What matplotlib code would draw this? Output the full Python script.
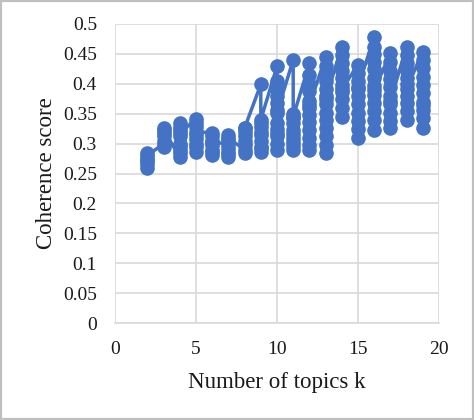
import matplotlib
matplotlib.use("Agg")
import matplotlib.pyplot as plt
from matplotlib.patches import Rectangle

# coherence scores per number of topics (several runs per k, in plotting order)
k2 = [0.284, 0.271, 0.260, 0.275, 0.266, 0.280]
k3 = [0.300, 0.326, 0.312, 0.294, 0.318, 0.305, 0.322]
k4 = [0.278, 0.335, 0.290, 0.322, 0.300, 0.285, 0.312, 0.328, 0.296, 0.318]
k5 = [0.341, 0.300, 0.328, 0.286, 0.315, 0.295, 0.335, 0.308, 0.320]
k6 = [0.318, 0.290, 0.305, 0.281, 0.298, 0.312, 0.286, 0.302]
k7 = [0.300, 0.278, 0.314, 0.286, 0.306, 0.292, 0.282, 0.309]
k8 = [0.290, 0.326, 0.284, 0.312, 0.298, 0.320, 0.305, 0.326]
k9 = [0.399, 0.334, 0.295, 0.286, 0.320, 0.305, 0.328, 0.292, 0.314, 0.340]
k10 = [0.429, 0.405, 0.392, 0.380, 0.368, 0.356, 0.300, 0.289, 0.312, 0.325, 0.335, 0.318, 0.352]
k11 = [0.440, 0.350, 0.296, 0.289, 0.310, 0.322, 0.335, 0.302, 0.342, 0.316, 0.345]
k12 = [0.434, 0.415, 0.400, 0.388, 0.372, 0.360, 0.348, 0.336, 0.322, 0.310, 0.298, 0.290, 0.365]
k13 = [0.444, 0.430, 0.418, 0.405, 0.392, 0.380, 0.366, 0.352, 0.340, 0.326, 0.312, 0.298, 0.284, 0.375]
k14 = [0.462, 0.448, 0.435, 0.422, 0.410, 0.398, 0.386, 0.374, 0.360, 0.345, 0.392]
k15 = [0.431, 0.418, 0.405, 0.392, 0.380, 0.366, 0.352, 0.338, 0.324, 0.309, 0.395]
k16 = [0.478, 0.462, 0.450, 0.437, 0.424, 0.410, 0.396, 0.382, 0.368, 0.354, 0.340, 0.323, 0.390]
k17 = [0.451, 0.436, 0.422, 0.408, 0.394, 0.380, 0.366, 0.352, 0.338, 0.326, 0.372]
k18 = [0.462, 0.448, 0.435, 0.422, 0.410, 0.400, 0.380, 0.368, 0.354, 0.339, 0.392]
k19 = [0.454, 0.440, 0.426, 0.412, 0.398, 0.384, 0.370, 0.356, 0.342, 0.326, 0.365]

topics = list(range(2, 20))
scores = [k2, k3, k4, k5, k6, k7, k8, k9, k10, k11, k12, k13, k14, k15, k16, k17, k18, k19]

x = []
y = []
for k, vals in zip(topics, scores):
    x += [k] * len(vals)
    y += vals

xticks = [0, 5, 10, 15, 20]
yticks = [0, 0.05, 0.1, 0.15, 0.2, 0.25, 0.3, 0.35, 0.4, 0.45, 0.5]
ylabels = ['0', '0.05', '0.1', '0.15', '0.2', '0.25', '0.3', '0.35', '0.4', '0.45', '0.5']

plt.rcParams['font.family'] = ['Liberation Serif', 'DejaVu Serif']

fig = plt.figure(figsize=(4.74, 4.2), dpi=100)
ax = fig.add_axes([115/474, 1 - 323/420, 324/474, 299/420])

ax.plot(x, y, color='#4472C4', lw=2.5, marker='o', ms=9.5, mec='#4472C4', mfc='#4472C4', zorder=3)

ax.set_xlim(0, 20)
ax.set_ylim(0, 0.5)
ax.set_xticks(xticks)
ax.set_yticks(yticks)
ax.set_yticklabels(ylabels)
ax.grid(True, color='#d9d9d9', lw=1.2)
ax.set_axisbelow(True)
for s in ['top', 'right', 'left']:
    ax.spines[s].set_visible(False)
ax.spines['bottom'].set_color('#d9d9d9')
ax.spines['bottom'].set_linewidth(1.2)
ax.tick_params(length=0, labelsize=14, colors='#1a1a1a', pad=13)

ax.set_xlabel('Number of topics k', fontsize=16.5, color='#1a1a1a', labelpad=10)
ax.set_ylabel('Coherence score', fontsize=16.5, color='#1a1a1a', labelpad=4)

# grey frame round the chart
fig.patches.append(Rectangle((0, 0), 1, 1, transform=fig.transFigure, fill=False,
                             edgecolor='#bfbfbf', lw=3, zorder=10))

fig.savefig('out.png', dpi=100)
